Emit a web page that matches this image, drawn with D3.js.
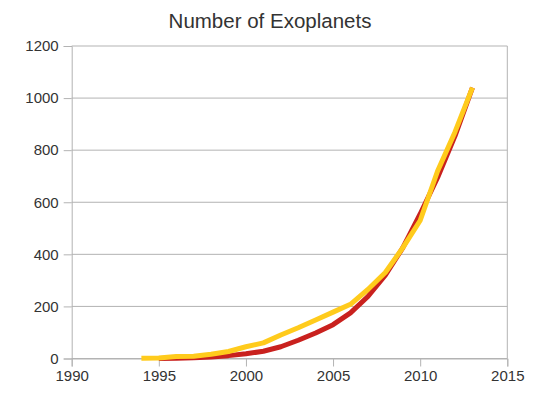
<!DOCTYPE html>
<html>
<head>
<meta charset="utf-8">
<script src="https://cdn.jsdelivr.net/npm/d3@7"></script>
<style>
  html, body { margin: 0; padding: 0; background: #fff; }
  svg { display: block; font-family: "Liberation Sans", Arial, sans-serif; }
</style>
</head>
<body>
<svg id="chart" width="560" height="413"></svg>
<script>
const title = "Number of Exoplanets";
const xTicks = [1990, 1995, 2000, 2005, 2010, 2015];
const yTicks = [0, 200, 400, 600, 800, 1000, 1200];

const years = [1994, 1995, 1996, 1997, 1998, 1999, 2000, 2001, 2002, 2003, 2004,
               2005, 2006, 2007, 2008, 2009, 2010, 2011, 2012, 2013];
const observed = [1, 2, 8, 9, 16, 27, 45, 60, 90, 118, 148,
                  178, 208, 265, 330, 425, 530, 720, 870, 1040];

const fitYears = [1995, 1996, 1997, 1998, 1999, 2000, 2001, 2002, 2003, 2004,
                  2005, 2006, 2007, 2008, 2009, 2010, 2011, 2012, 2013];
const fitted = [0, 1, 3, 6, 11, 18, 28, 45, 70, 98,
                130, 175, 238, 320, 425, 555, 695, 855, 1040];

const svg = d3.select("#chart");
const x = d3.scaleLinear().domain([1990, 2015]).range([71.7, 507.3]);
const y = d3.scaleLinear().domain([0, 1200]).range([358.5, 46]);
const gridColor = "#b3b3b3";
const textColor = "#333333";

// gridlines
svg.append("g").selectAll("line").data(yTicks).join("line")
  .attr("x1", x(1990)).attr("x2", x(2015))
  .attr("y1", d => y(d)).attr("y2", d => y(d))
  .attr("stroke", gridColor).attr("stroke-width", 1);

// right border
svg.append("line")
  .attr("x1", x(2015)).attr("x2", x(2015))
  .attr("y1", y(1200)).attr("y2", y(0))
  .attr("stroke", gridColor).attr("stroke-width", 1);

// y axis
const yAxis = svg.append("g").attr("transform", `translate(${x(1990)},0)`)
  .call(d3.axisLeft(y).tickValues(yTicks).tickSize(8).tickPadding(5).tickFormat(d3.format("d")));
// x axis
const xAxis = svg.append("g").attr("transform", `translate(0,${y(0)})`)
  .call(d3.axisBottom(x).tickValues(xTicks).tickSize(8).tickPadding(4).tickFormat(d3.format("d")));

[yAxis, xAxis].forEach(g => {
  g.select(".domain").attr("stroke", gridColor).attr("stroke-width", 1);
  g.selectAll(".tick line").attr("stroke", gridColor).attr("stroke-width", 1);
  g.selectAll(".tick text").attr("fill", textColor)
    .style("font-family", '"Liberation Sans", Arial, sans-serif').style("font-size", "15px");
});

// lines
const lineGen = d3.line().x(d => x(d[0])).y(d => y(d[1]));
svg.append("path")
  .datum(fitYears.map((yr, i) => [yr, fitted[i]]))
  .attr("d", lineGen)
  .attr("fill", "none").attr("stroke", "#c9211e").attr("stroke-width", 5)
  .attr("stroke-linejoin", "round");
svg.append("path")
  .datum(years.map((yr, i) => [yr, observed[i]]))
  .attr("d", lineGen)
  .attr("fill", "none").attr("stroke", "#ffcb1c").attr("stroke-width", 5)
  .attr("stroke-linejoin", "round");

// title
svg.append("text")
  .attr("x", 270).attr("y", 28)
  .attr("text-anchor", "middle")
  .attr("fill", textColor)
  .style("font-size", "20.5px")
  .text(title);
</script>
</body>
</html>
